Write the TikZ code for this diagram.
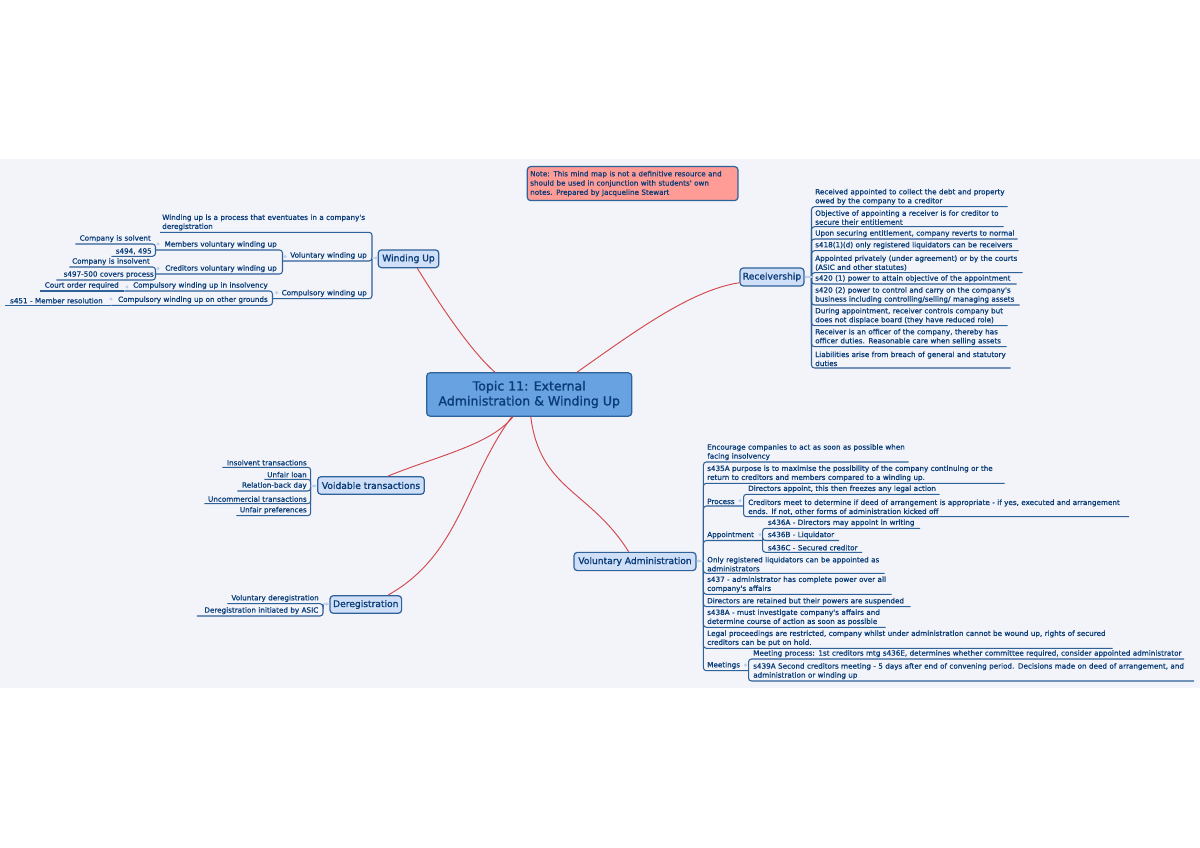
\documentclass[tikz,border=0pt]{standalone}
\usepackage{fontspec}
\setmainfont{DejaVu Sans}
\newfontfamily\mapfont{DejaVu Sans}[FakeBold=1]
\newfontfamily\headfont{DejaVu Sans}[FakeBold=1.4]
\definecolor{bandbg}{HTML}{F2F4FA}
\definecolor{inkblue}{HTML}{0A3C78}
\definecolor{linkblue}{HTML}{2F6299}
\definecolor{boxblue}{HTML}{CFDFF8}
\definecolor{topicblue}{HTML}{68A2E0}
\definecolor{notered}{HTML}{FF9C96}
\definecolor{ribred}{HTML}{D2474A}
\definecolor{knobblue}{HTML}{BCCFEC}
\tikzset{
  leaf/.style={anchor=south west, inner xsep=1.5pt, inner ysep=1.2pt, text width=#1*0.75pt-3pt, align=left,
    text=inkblue, font=\mapfont\fontsize{5.4}{6.75}\selectfont},
  leafl/.style={leaf=#1, anchor=south east, align=right},
  branch/.style={draw=linkblue, line width=0.8pt, rounded corners=2.2pt},
  stub/.style={draw=knobblue, line width=0.8pt},
  knob/.style={circle, fill=knobblue, inner sep=0pt, minimum size=2.6pt},
  mainbox/.style={draw=linkblue, fill=boxblue, line width=0.9pt, rounded corners=2.5pt, inner sep=0pt,
    text=inkblue, font=\headfont\fontsize{6.85}{8}\selectfont},
  rib/.style={draw=ribred, line width=0.7pt}
}
\begin{document}
\begin{tikzpicture}[x=0.75pt,y=-0.75pt]
  \useasboundingbox (0,0) rectangle (1200,848);
  \fill[bandbg] (0,159) rectangle (1200,688);

  % Centre and main topics
  \node[mainbox, fill=topicblue, minimum width=153.75pt, minimum height=32.5pt, align=center,
    font=\headfont\fontsize{9.4}{11.2}\selectfont] (topic) at (529.2,394.5) {Topic 11: External\\Administration \& Winding Up};
  \node[mainbox, minimum width=45.5pt, minimum height=13.3pt] (windup) at (408.5,258.8) {Winding Up};
  \node[mainbox, minimum width=48pt, minimum height=13.5pt] (recv) at (772,277) {Receivership};
  \node[mainbox, minimum width=80pt, minimum height=13.2pt] (void) at (371,485.5) {Voidable transactions};
  \node[mainbox, minimum width=53.7pt, minimum height=13.2pt] (dereg) at (365.8,604.5) {Deregistration};
  \node[mainbox, minimum width=91.5pt, minimum height=13.7pt] (vadmin) at (635,561.5) {Voluntary Administration};

  \node[mainbox, fill=notered, minimum width=158pt, minimum height=25.5pt, anchor=north west, align=left,
    inner xsep=2.2pt, text width=153.6pt, font=\mapfont\fontsize{5.4}{6.95}\selectfont] (note) at (526.7,166)
    {Note: This mind map is not a definitive resource and\\should be used in conjunction with students' own\\notes.  Prepared by Jacqueline Stewart};

  % Winding up
  \coordinate (wuspine) at (372,258);
  \node[leaf=210] (wu0) at (160,232.3) {Winding up is a process that eventuates in a company's\\deregistration};
  \node[leafl=86] (wuvol) at (369,261) {Voluntary winding up};
  \node[leafl=96] (wucom) at (369,298.7) {Compulsory winding up};
  \node[leafl=123] (wumem) at (279,250) {Members voluntary winding up};
  \node[leafl=123] (wucre) at (279,274) {Creditors voluntary winding up};
  \node[leafl=77] (wusol) at (153,244) {Company is solvent};
  \node[leafl=42] (wus494) at (154,256.3) {s494, 495};
  \node[leafl=82] (wuins) at (152,267) {Company is insolvent};
  \node[leafl=99] (wus497) at (156,280) {s497-500 covers process};
  \node[leafl=145] (wucin) at (270,291) {Compulsory winding up in insolvency};
  \node[leafl=158] (wucot) at (270,305.3) {Compulsory winding up on other grounds};
  \node[leafl=80] (wucourt) at (121,291) {Court order required};
  \node[leafl=99] (wus451) at (105,305.3) {s451 - Member resolution};

  % Receivership
  \coordinate (recspine) at (811.5,277);
  \node[leaf=194] (rec1) at (813,206.7) {Received appointed to collect the debt and property\\owed by the company to a creditor};
  \node[leaf=190] (rec2) at (813,226.7) {Objective of appointing a receiver is for creditor to\\secure their entitlement};
  \node[leaf=204] (rec3) at (813,239) {Upon securing entitlement, company reverts to normal};
  \node[leaf=205] (rec4) at (813,250.7) {s418(1)(d) only registered liquidators can be receivers};
  \node[leaf=209] (rec5) at (813,272.7) {Appointed privately (under agreement) or by the courts\\(ASIC and other statutes)};
  \node[leaf=203] (rec6) at (813,284) {s420 (1) power to attain objective of the appointment};
  \node[leaf=206] (rec7) at (813,305) {s420 (2) power to control and carry on the company's\\business including controlling/selling/ managing assets};
  \node[leaf=194] (rec8) at (813,325.7) {During appointment, receiver controls company but\\does not displace board (they have reduced role)};
  \node[leaf=193] (rec9) at (813,346.7) {Receiver is an officer of the company, thereby has\\officer duties.  Reasonable care when selling assets};
  \node[leaf=197] (rec10) at (813,368) {Liabilities arise from breach of general and statutory\\duties};

  % Voluntary administration
  \coordinate (vaspine) at (703.4,561);
  \node[leaf=203] (va1) at (705,462) {Encourage companies to act as soon as possible when\\facing insolvency};
  \node[leaf=299] (va2) at (705,483.3) {s435A purpose is to maximise the possibility of the company continuing or the\\return to creditors and members compared to a winding up.};
  \node[leaf=38] (vaproc) at (705,506) {Process};
  \node[leaf=193] (vap1) at (746,494.3) {Directors appoint, this then freezes any legal action};
  \node[leaf=382.5] (vap2) at (746,516.7) {Creditors meet to determine if deed of arrangement is appropriate - if yes, executed and arrangement\\ends. If not, other forms of administration kicked off};
  \node[leaf=57] (vaapp) at (705,540.5) {Appointment};
  \node[leaf=154] (vaa1) at (765.7,528.3) {s436A - Directors may appoint in writing};
  \node[leaf=73] (vaa2) at (765.7,540.5) {s436B  - Liquidator};
  \node[leaf=96] (vaa3) at (765.7,552.3) {s436C - Secured creditor};
  \node[leaf=179] (va3) at (705,573.3) {Only registered liquidators can be appointed as\\administrators};
  \node[leaf=186] (va4) at (705,594.3) {s437 - administrator has complete power over all\\company's affairs};
  \node[leaf=205] (va5) at (705,606.7) {Directors are retained but their powers are suspended};
  \node[leaf=180] (va6) at (705,627.3) {s438A - must investigate company's affairs and\\determine course of action as soon as possible};
  \node[leaf=407] (va7) at (705,648.3) {Legal proceedings are restricted, company whilst under administration cannot be wound up, rights of secured\\creditors can be put on hold.};
  \node[leaf=43] (vameet) at (705,670.7) {Meetings};
  \node[leaf=432.5] (vam1) at (751,659) {Meeting process: 1st creditors mtg s436E, determines whether committee required, consider appointed administrator};
  \node[leaf=442.5] (vam2) at (751,681) {s439A Second creditors meeting - 5 days after end of convening period.  Decisions made on deed of arrangement, and\\administration or winding up};

  % Voidable transactions
  \coordinate (voidspine) at (310.7,486);
  \node[leafl=86] (void1) at (309,467.3) {Insolvent transactions};
  \node[leafl=44] (void2) at (309,479.3) {Unfair loan};
  \node[leafl=71] (void3) at (309,491) {Relation-back day};
  \node[leafl=104] (void4) at (309,503.7) {Uncommercial transactions};
  \node[leafl=72] (void5) at (309,515.7) {Unfair preferences};

  % Deregistration
  \coordinate (derspine) at (323,604);
  \node[leafl=93] (der1) at (321,603.7) {Voluntary deregistration};
  \node[leafl=123] (der2) at (320.5,616) {Deregistration initiated by ASIC};

  % Red links
  \draw[rib] (topic.147) .. controls (470,350) and (440,305) .. (windup.313);
  \draw[rib] (topic.25) .. controls (630,335) and (690,290) .. (recv.190);
  \draw[rib] (topic.234) .. controls (490,445) and (440,455) .. (void.29);
  \draw[rib] (topic.232) .. controls (465,480) and (460,555) .. (dereg.23);
  \draw[rib] (topic.274) .. controls (540,490) and (590,490) .. (vadmin.123);

  % Branches
  \foreach \n in {wu0,wucom,wuvol} \draw[branch] (wuspine) |- (\n.south west);
  \foreach \n in {wumem,wucre} \draw[branch] (wuvol.south west) |- (\n.south west);
  \foreach \n in {wusol,wus494} \draw[branch] (wumem.south west) |- (\n.south west);
  \foreach \n in {wuins,wus497} \draw[branch] (wucre.south west) |- (\n.south west);
  \foreach \n in {wucin,wucot} \draw[branch] (wucom.south west) |- (\n.south west);
  \draw[branch] (wucin.south west) -- (wucourt.south west);
  \draw[branch] (wucot.south west) -- (wus451.south west);

  \foreach \i in {1,...,10} \draw[branch] (recspine) |- (rec\i.south east);

  \foreach \n in {va1,va2,vaproc,vaapp,va3,va4,va5,va6,va7,vameet} \draw[branch] (vaspine) |- (\n.south east);
  \foreach \n in {vap1,vap2} \draw[branch] (vaproc.south east) |- (\n.south east);
  \foreach \n in {vaa1,vaa2,vaa3} \draw[branch] (vaapp.south east) |- (\n.south east);
  \foreach \n in {vam1,vam2} \draw[branch] (vameet.south east) |- (\n.south east);

  \foreach \i in {1,...,5} \draw[branch] (voidspine) |- (void\i.south west);
  \foreach \i in {1,2} \draw[branch] (derspine) |- (der\i.south west);

  % Stubs and knobs
  \draw[stub] (windup) -- (wuspine);
  \draw[stub] (recv) -- (recspine);
  \draw[stub] (vadmin) -- (vaspine);
  \draw[stub] (void) -- (voidspine);
  \draw[stub] (dereg) -- (derspine);
  \foreach \x/\y [count=\k] in {376/258, 285/256.7, 158/244, 158/268.7, 127/287, 111/299, 276.7/292.7, 806/277, 698.6/561,
      740/500.7, 760/534.7, 745.6/665, 314/486, 326.7/604}
    \node[knob] (knob\k) at (\x,\y) {};
\end{tikzpicture}
\end{document}
